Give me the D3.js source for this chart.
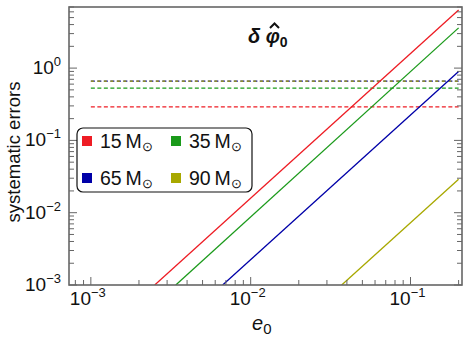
<!DOCTYPE html>
<html><head><meta charset="utf-8">
<script src="https://cdn.jsdelivr.net/npm/d3@7"></script>
<style>body{margin:0;background:#fff}text{font-family:"Liberation Sans",Arial,sans-serif}</style>
</head><body><svg id="c" width="474" height="338"></svg>
<script>
const masses = ["15", "35", "65", "90"];
const colors = ["#ee1c24", "#1a9a1a", "#0000a8", "#a8a800"];
// solid lines: [e0, error] endpoints
const solidE = [[0.00251, 0.2], [0.0034, 0.2], [0.00668, 0.2], [0.0371, 0.2]];
const solidV = [[0.001, 6.35], [0.001, 3.6], [0.001, 0.9], [0.001, 0.029]];
// dashed horizontal levels
const dashedE = [0.001, 0.2];
const dashedV = [0.29, 0.53, 0.66, 0.66];
const xTicks = [1e-3, 1e-2, 1e-1];
const xTickLabels = ["\u22123", "\u22122", "\u22121"];
const yTicks = [1e-3, 1e-2, 1e-1, 1];
const yTickLabels = ["\u22123", "\u22122", "\u22121", "0"];

const svg = d3.select("#c");
const L = 69, R = 462, T = 7, B = 285;
const x = d3.scaleLog().domain([7.3e-4, 0.21]).range([L, R]);
const y = d3.scaleLog().domain([1e-3, 7]).range([B, T]);
const frame = "#666";

svg.append("clipPath").attr("id", "clip").append("rect")
  .attr("x", L).attr("y", T).attr("width", R - L).attr("height", B - T);
const g = svg.append("g").attr("clip-path", "url(#clip)");
const line = d3.line().x(d => x(d[0])).y(d => y(d[1]));

// dashed
dashedV.forEach((v, i) => {
  g.append("path").attr("d", line(dashedE.map(e => [e, v])))
    .attr("fill", "none").attr("stroke", colors[i]).attr("stroke-width", 1.3)
    .attr("stroke-dasharray", i === 3 ? "3,3.5" : "4,2.5");
});
// solid
solidE.forEach((es, i) => {
  g.append("path").attr("d", line(es.map((e, j) => [e, solidV[i][j]])))
    .attr("fill", "none").attr("stroke", colors[i]).attr("stroke-width", 1.3);
});

// ticks
const minorX = [], minorY = [];
for (let d = -4; d <= 0; d++) for (let k = 1; k <= 9; k++) {
  const v = k * Math.pow(10, d);
  if (v >= 7.3e-4 && v <= 0.21) minorX.push(v);
  if (v >= 1e-3 && v <= 7) minorY.push(v);
}
const tk = svg.append("g").attr("stroke", frame).attr("stroke-width", 1);
minorX.forEach(v => {
  const major = xTicks.some(t => Math.abs(t - v) / t < 1e-6);
  const len = major ? 8 : 5;
  tk.append("line").attr("x1", x(v)).attr("x2", x(v)).attr("y1", B).attr("y2", B - len);
});
minorY.forEach(v => {
  const major = yTicks.some(t => Math.abs(t - v) / t < 1e-6);
  const len = major ? 8 : 5;
  tk.append("line").attr("x1", L).attr("x2", L + len).attr("y1", y(v)).attr("y2", y(v));
  tk.append("line").attr("x1", R).attr("x2", R - len).attr("y1", y(v)).attr("y2", y(v));
});
svg.append("rect").attr("x", L).attr("y", T).attr("width", R - L).attr("height", B - T)
  .attr("fill", "none").attr("stroke", frame).attr("stroke-width", 1.6);

// tick labels
xTicks.forEach((v, i) => {
  const t = svg.append("text").attr("x", x(v) - 3).attr("y", 305)
    .attr("text-anchor", "middle").attr("font-size", 19).attr("fill", "#111");
  t.append("tspan").text("10");
  t.append("tspan").attr("dy", -8).attr("font-size", 13).text(xTickLabels[i]);
});
yTicks.forEach((v, i) => {
  const t = svg.append("text").attr("x", 61).attr("y", y(v) + 6)
    .attr("text-anchor", "end").attr("font-size", 19).attr("fill", "#111");
  t.append("tspan").text("10");
  t.append("tspan").attr("dy", -8).attr("font-size", 13).text(yTickLabels[i]);
});

// axis labels
svg.append("text").attr("transform", "translate(20,152) rotate(-90)")
  .attr("text-anchor", "middle").attr("font-size", 18.5).attr("fill", "#111").text("systematic errors");
const xl = svg.append("text").attr("x", 252).attr("y", 330).attr("font-size", 20).attr("fill", "#111");
xl.append("tspan").attr("font-style", "italic").text("e");
xl.append("tspan").attr("dy", 4).attr("font-size", 15).text("0");

// title
const tt = svg.append("text").attr("x", 248).attr("y", 43).attr("font-size", 20)
  .attr("font-weight", "bold").attr("fill", "#111");
tt.append("tspan").attr("font-style", "italic").text("\u03b4 \u03c6");
tt.append("tspan").attr("dy", 4).attr("font-size", 14).text("0");
// circumflex accent over phi
svg.append("path").attr("d", "M270,28 L274.5,23.5 L279,28")
  .attr("fill", "none").attr("stroke", "#111").attr("stroke-width", 2);

// legend
svg.append("rect").attr("x", 77).attr("y", 128).attr("width", 175).attr("height", 64)
  .attr("rx", 6).attr("fill", "#fff").attr("stroke", "#111").attr("stroke-width", 1.2);
masses.forEach((m, i) => {
  const cx = i % 2 === 0 ? 82 : 171;
  const cy = i < 2 ? 141 : 178;
  svg.append("rect").attr("x", cx).attr("y", cy - 5).attr("width", 10).attr("height", 10).attr("fill", colors[i]);
  const t = svg.append("text").attr("x", cx + 18).attr("y", cy + 7).attr("font-size", 19.5).attr("fill", "#111");
  t.append("tspan").text(m + "\u2009M");
  t.append("tspan").attr("dy", 3).attr("font-size", 13).text("\u2299");
});
</script></body></html>
